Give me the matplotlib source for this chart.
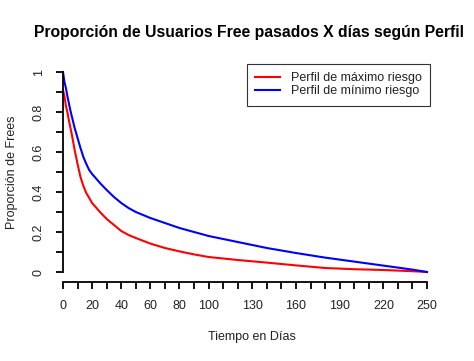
import matplotlib
matplotlib.use("Agg")
import matplotlib.pyplot as plt

# Survival-type curves (proportion of Free users still Free)
days = [0, 1, 2, 3, 4, 5, 6, 7, 8, 9, 10, 12, 14, 16, 18, 20, 23, 26, 30, 35,
        40, 45, 50, 60, 70, 80, 90, 100, 120, 140, 160, 180, 200, 220, 240, 250]
max_riesgo = [0.91, 0.88, 0.83, 0.80, 0.76, 0.725, 0.69, 0.65, 0.61, 0.575,
              0.54, 0.475, 0.43, 0.395, 0.37, 0.345, 0.32, 0.295, 0.265, 0.235,
              0.205, 0.185, 0.17, 0.142, 0.12, 0.103, 0.088, 0.075, 0.06, 0.047,
              0.033, 0.02, 0.014, 0.01, 0.004, 0.0]
min_riesgo = [1.0, 0.95, 0.92, 0.88, 0.845, 0.81, 0.78, 0.75, 0.72, 0.695,
              0.67, 0.62, 0.575, 0.54, 0.51, 0.49, 0.465, 0.44, 0.41, 0.375,
              0.345, 0.32, 0.30, 0.27, 0.245, 0.22, 0.20, 0.18, 0.15, 0.12,
              0.095, 0.072, 0.052, 0.032, 0.012, 0.0]

x_ticks = list(range(0, 251, 10))
x_labels = ["0", "20", "40", "60", "80", "100", "130", "160", "190", "220", "250"]
y_ticks = [i / 10 for i in range(11)]
y_labels = ["0", "0.2", "0.4", "0.6", "0.8", "1"]

plt.rcParams['font.family'] = ['Liberation Sans', 'DejaVu Sans']

W, H = 474, 361
fig = plt.figure(figsize=(W / 100, H / 100), dpi=100)
ax = fig.add_axes([63 / W, 1 - 272 / H, 364 / W, 200 / H])

ax.plot(days, max_riesgo, color='red', lw=1.5, clip_on=False, label='Perfil de máximo riesgo')
ax.plot(days, min_riesgo, color='blue', lw=1.5, clip_on=False, label='Perfil de mínimo riesgo')

ax.set_xlim(0, 250)
ax.set_ylim(0, 1)

for side in ['top', 'right']:
    ax.spines[side].set_visible(False)
ax.spines['bottom'].set_position(('outward', 7.2))
ax.spines['bottom'].set_bounds(0, 250)
ax.spines['left'].set_bounds(0, 1)
for side in ['bottom', 'left']:
    ax.spines[side].set_linewidth(1.3)

ax.set_xticks(x_ticks)
ax.set_xticklabels([str(t) if str(t) in x_labels else "" for t in x_ticks])
ax.set_yticks(y_ticks)
ax.set_yticklabels([y_labels[i // 2] if i % 2 == 0 else "" for i in range(11)],
                   rotation=90, va='center')
ax.tick_params(axis='both', length=5, width=1.3, labelsize=9, pad=8,
               labelcolor='#222222')

fig.text(12 / W, 1 - 172 / H, "Proporción de Frees", rotation=90,
         ha='center', va='center', fontsize=9, color='#222222')
fig.text(252 / W, 1 - 337 / H, "Tiempo en Días", ha='center', va='center',
         fontsize=9, color='#222222')
fig.text(249 / W, 1 - 32 / H, "Proporción de Usuarios Free pasados X días según Perfil",
         ha='center', va='center', fontsize=11.3, fontweight='bold')

leg = ax.legend(loc='upper left', bbox_to_anchor=(247 / W, 1 - 64 / H),
                bbox_transform=fig.transFigure, fancybox=False, edgecolor='#333333',
                fontsize=9, handlelength=2.0, handletextpad=0.9, labelspacing=0.1,
                borderpad=0.65, borderaxespad=0, framealpha=1)
leg.get_frame().set_linewidth(0.8)
for t in leg.get_texts():
    t.set_color('#222222')

fig.savefig("out.png", dpi=100)
